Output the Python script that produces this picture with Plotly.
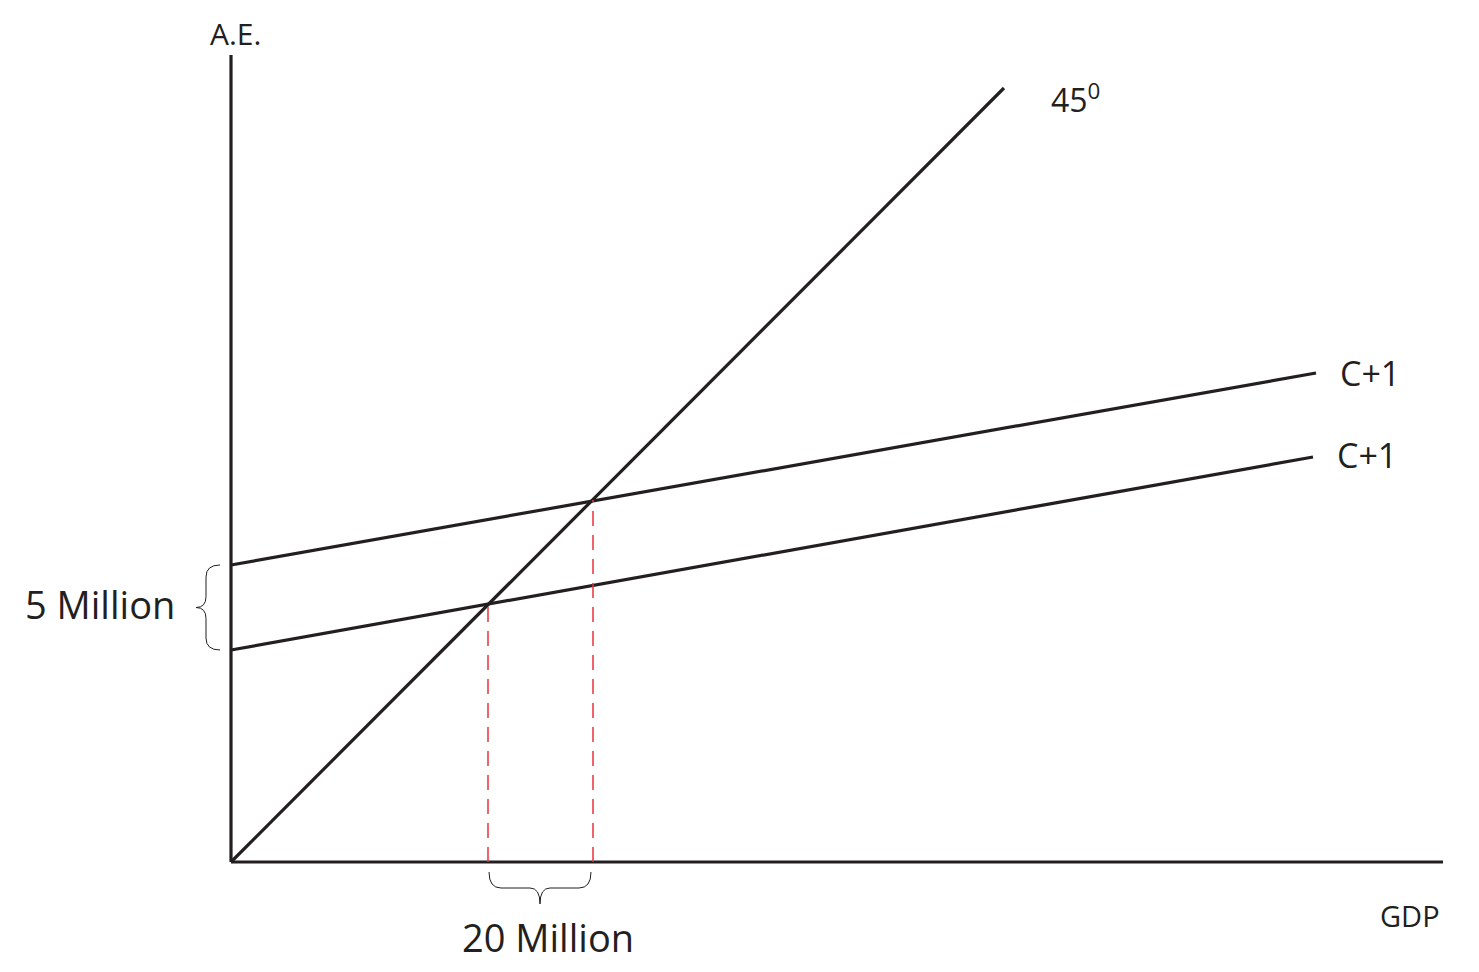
import plotly.graph_objects as go

# Data in diagram units (origin at axes corner)
line45_x = [0, 773]
line45_y = [0, 774]
c_upper_x = [0, 1085]
c_upper_y = [297, 489]
c_lower_x = [0, 1082]
c_lower_y = [212, 405]
eq_x = [257, 362]
eq_y = [258, 362]
axis_x_end = 1212
axis_y_end = 807

fig = go.Figure()
blk = dict(color="#231f20", width=3.2)
fig.add_trace(go.Scatter(x=[0, axis_x_end], y=[0, 0], mode="lines", line=blk))
fig.add_trace(go.Scatter(x=[0, 0], y=[0, axis_y_end], mode="lines", line=blk))
fig.add_trace(go.Scatter(x=line45_x, y=line45_y, mode="lines", line=blk))
fig.add_trace(go.Scatter(x=c_upper_x, y=c_upper_y, mode="lines", line=blk))
fig.add_trace(go.Scatter(x=c_lower_x, y=c_lower_y, mode="lines", line=blk))
for ex, ey in zip(eq_x, eq_y):
    fig.add_trace(go.Scatter(x=[ex, ex], y=[0, ey], mode="lines",
                             line=dict(color="#e8333a", width=1.5, dash="15px,9px")))

# braces
yt, yb = c_upper_y[0], c_lower_y[0]
ym = (yt + yb) / 2
fig.add_shape(type="path", xref="x", yref="y", line=dict(color="#231f20", width=1),
              path=f"M -11,{yt} Q -25,{yt} -25,{yt-12} L -25,{ym+11} Q -25,{ym} -35,{ym} "
                   f"Q -25,{ym} -25,{ym-11} L -25,{yb+12} Q -25,{yb} -11,{yb}")
xl, xr = eq_x[0] + 1, eq_x[1] - 2
xm = (xl + xr) / 2
fig.add_shape(type="path", xref="x", yref="y", line=dict(color="#231f20", width=1),
              path=f"M {xl},-10 Q {xl},-26 {xl+12},-26 L {xm-10},-26 Q {xm},-26 {xm},-42 "
                   f"Q {xm},-26 {xm+10},-26 L {xr-12},-26 Q {xr},-26 {xr},-10")

F = "Open Sans"
def txt(x, y, s, size):
    fig.add_annotation(x=x, y=y, text=s, showarrow=False, xref="x", yref="y",
                       font=dict(family=F, size=size, color="#231f20"))
txt(4, 829, "A.E.", 30)
txt(844, 764, "45<sup>0</sup>", 32)
txt(1139, 489, "C+1", 34)
txt(1136, 407, "C+1", 34)
txt(-131, 258, "5 Million", 38)
txt(317, -75, "20 Million", 38)
txt(1179, -53, "GDP", 29)

fig.update_layout(width=1479, height=972, margin=dict(l=0, r=0, t=0, b=0),
                  plot_bgcolor="white", paper_bgcolor="white", showlegend=False,
                  xaxis=dict(range=[-223, 1256], visible=False),
                  yaxis=dict(range=[-118, 854], visible=False))
fig.write_html("out.html")
